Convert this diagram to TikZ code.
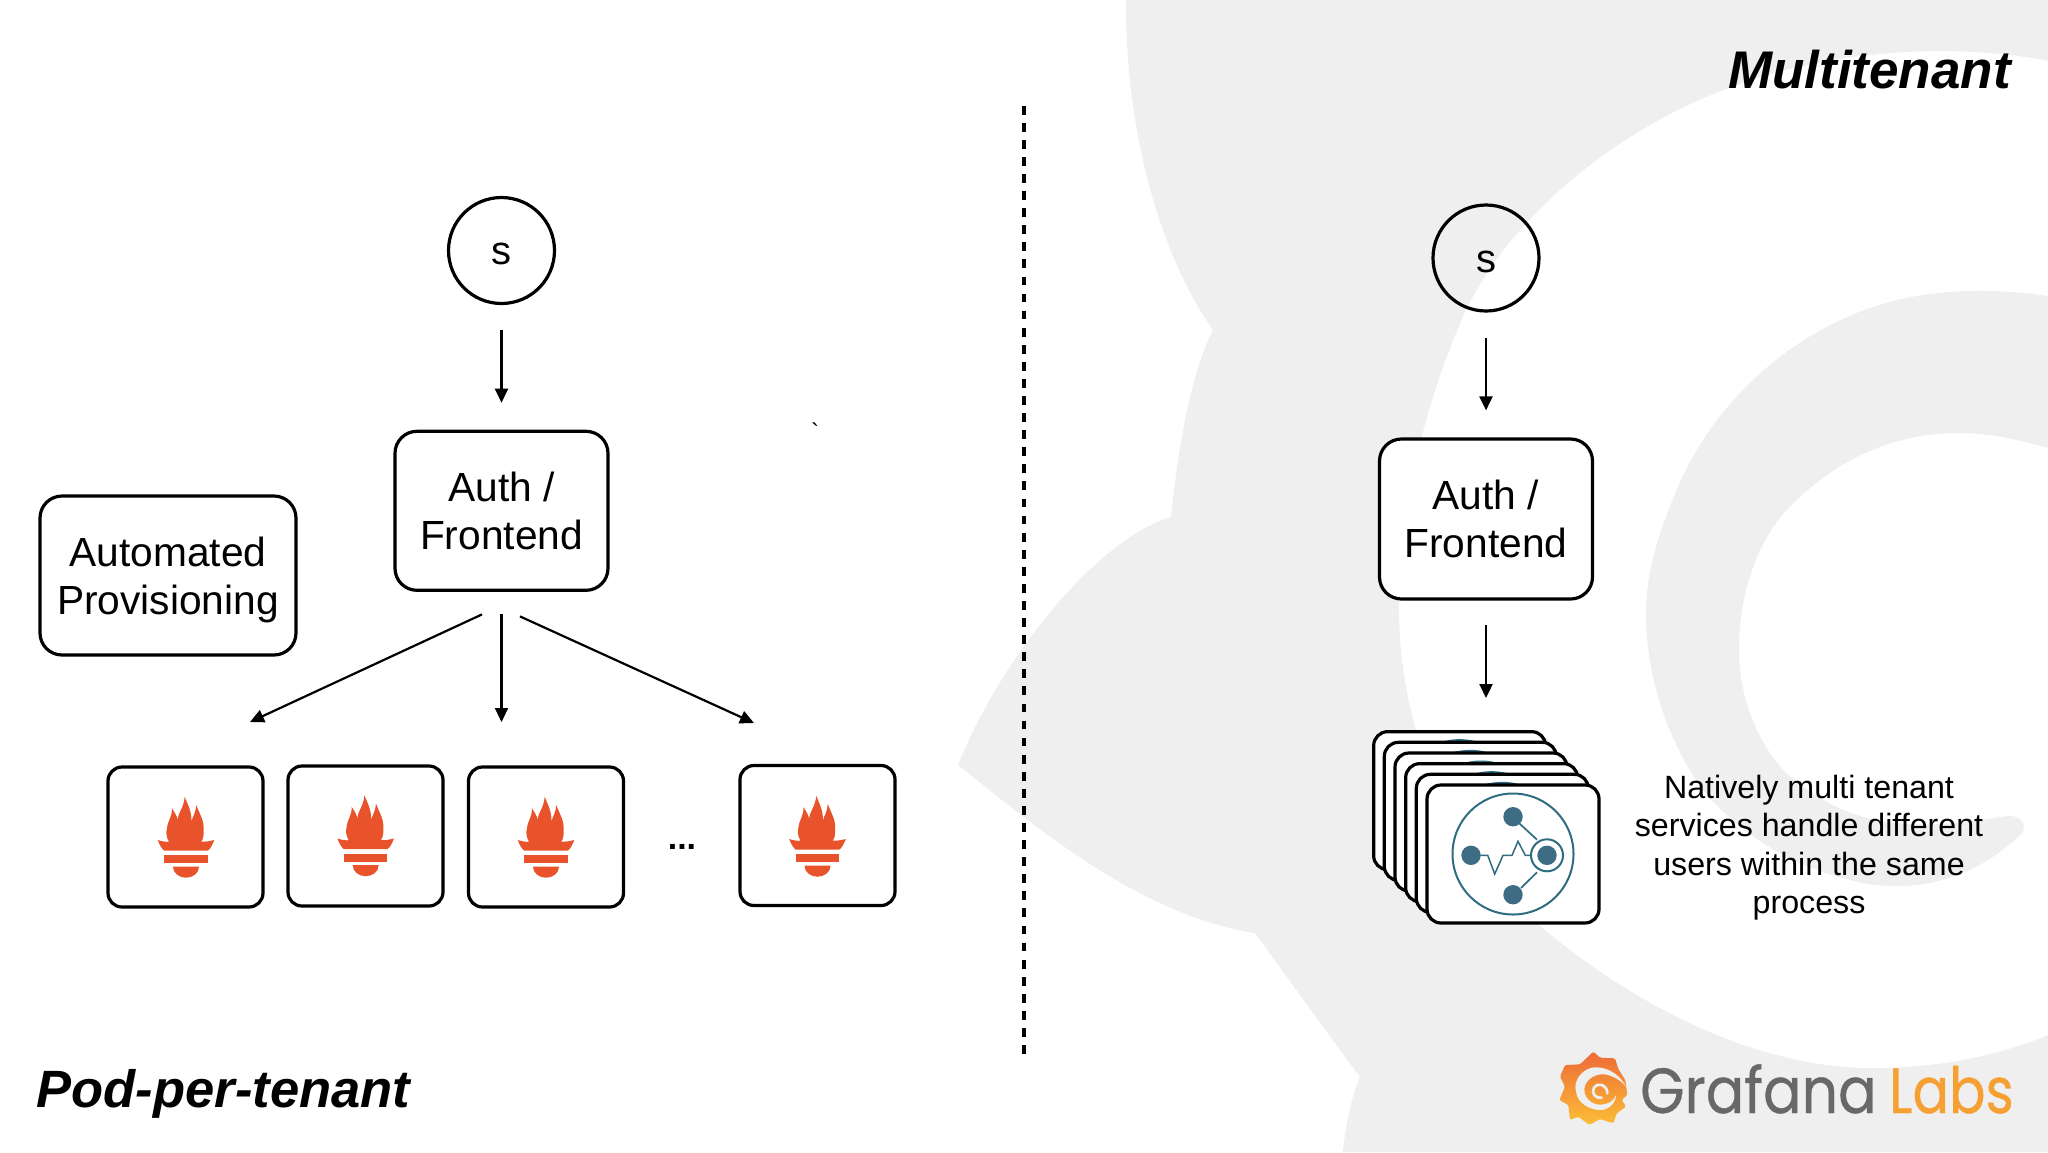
\documentclass[tikz,border=0pt]{standalone}
\usepackage{fontspec}
\usepackage{graphicx}
\usetikzlibrary{arrows.meta}
\setmainfont{Liberation Sans}
\newfontfamily\plainsans{Liberation Sans}
\newfontfamily\logofont[FakeBold=0.6]{Poppins}
\definecolor{bggray}{HTML}{EFEFF0}
\definecolor{flame}{HTML}{E9532B}
\definecolor{teal}{HTML}{2F6C80}
\definecolor{tealfill}{HTML}{3D6C84}
\definecolor{logogray}{HTML}{68686B}
\definecolor{logoorange}{HTML}{F6A033}
\definecolor{logotop}{HTML}{EE6A38}
\definecolor{logobottom}{HTML}{FBBE36}
\tikzset{
  roundbox/.style={draw=black,line width=3.2pt,rounded corners=22pt,fill=white,inner sep=0pt,align=center,
    font=\fontsize{40.7}{47.7}\selectfont},
  promcard/.style={draw=black,line width=3.2pt,rounded corners=14pt,fill=white,inner sep=0pt,minimum width=155pt,minimum height=140pt},
  stackcard/.style={draw=black,line width=3.2pt,rounded corners=14pt,fill=white,inner sep=0pt,minimum width=172pt,minimum height=138pt},
  usercircle/.style={circle,draw=black,line width=3.2pt,fill=none,inner sep=0pt,minimum size=106pt,font=\fontsize{40}{48}\selectfont},
  flow/.style={line width=2.2pt,-{Triangle[length=14pt,width=13pt]}},
  titletext/.style={font=\fontsize{53}{60}\selectfont\bfseries\itshape,inner sep=0pt},
  flamepic/.pic={
    \fill[flame] (-28.3,0) .. controls (-24,1.5) and (-20,2) .. (-17,1.7)
      .. controls (-20,-3) and (-20,-8) .. (-19,-12)
      .. controls (-18,-20) and (-14,-22) .. (-14,-31.7)
      .. controls (-11,-27) and (-9,-24) .. (-8.3,-20)
      .. controls (-8,-28) and (-2,-32) .. (-1.3,-43.3)
      .. controls (2,-35) and (6,-28) .. (5.3,-18.3)
      .. controls (7,-24) and (10,-28) .. (10.3,-35)
      .. controls (14,-25) and (18,-20) .. (17.7,-10)
      .. controls (18,-5) and (17,0) .. (15,1.7)
      .. controls (20,2) and (24,1) .. (28.3,0)
      .. controls (26,6) and (24,9) .. (21.7,10.7)
      -- (-21.7,10.7) .. controls (-24,9) and (-26,6) .. (-28.3,0) -- cycle;
    \fill[flame] (-22,15.3) rectangle (21.7,23.3);
    \fill[flame] (-13,26.7) -- (13,26.7) .. controls (13,33) and (7,37.7) .. (0,37.7)
      .. controls (-7,37.7) and (-13,33) .. (-13,26.7) -- cycle;
  },
  targetpic/.pic={
    \draw[teal,line width=2pt] (0,0) circle[radius=60.5pt];
    \fill[tealfill] (0,-37.3) circle[radius=9.7pt];
    \fill[tealfill] (-42,1.3) circle[radius=9.7pt];
    \fill[tealfill] (0,40.7) circle[radius=9.7pt];
    \fill[tealfill] (34,1.3) circle[radius=9.7pt];
    \draw[teal,line width=2pt] (34,1.3) circle[radius=16pt];
    \draw[teal,line width=1.7pt] (6.7,-30.3) -- (24,-14.3);
    \draw[teal,line width=1.7pt] (8,34) -- (24,18.3);
    \draw[teal,line width=1.5pt,line join=miter] (-32.7,1.3) -- (-25.3,1.3) -- (-18.3,20) -- (-10,1.3) -- (-1,1.3) -- (5,-12.7) -- (12.3,1.3) -- (17.3,1.3);
  }
}
\begin{document}
\begin{tikzpicture}[x=1pt,y=-1pt]
\useasboundingbox (0,0) rectangle (2048,1152);
\fill[white] (0,0) rectangle (2048,1152);
% background logo shape
\fill[bggray] (1126,0)
  .. controls (1125,130) and (1160,255) .. (1213,330)
  .. controls (1190,375) and (1178,450) .. (1171,517)
  .. controls (1095,540) and (1000,660) .. (958,765)
  .. controls (1040,830) and (1140,915) .. (1255,933)
  .. controls (1290,981) and (1325,1030) .. (1360,1077)
  .. controls (1350,1100) and (1345,1130) .. (1343,1152)
  -- (2048,1152) -- (2048,0) -- cycle;
\fill[white] (2048,61)
  .. controls (1950,42) and (1830,50) .. (1729,88)
  .. controls (1620,128) and (1500,220) .. (1457,331)
  .. controls (1420,420) and (1399,520) .. (1399,609)
  .. controls (1399,730) and (1450,850) .. (1539,925)
  .. controls (1640,1010) and (1760,1068) .. (1873,1068)
  .. controls (1940,1068) and (2000,1055) .. (2048,1035) -- cycle;
\fill[bggray] (2048,296)
  .. controls (1990,288) and (1930,288) .. (1873,307)
  .. controls (1790,335) and (1715,400) .. (1677,489)
  .. controls (1660,530) and (1646,570) .. (1646,613)
  .. controls (1646,680) and (1670,745) .. (1703,790)
  .. controls (1745,840) and (1800,870) .. (1863,883)
  .. controls (1930,895) and (1985,870) .. (2022,833)
  .. controls (2028,822) and (2018,815) .. (2007,816)
  .. controls (1970,822) and (1935,827) .. (1897,823)
  .. controls (1855,820) and (1815,800) .. (1783,770)
  .. controls (1755,738) and (1739,695) .. (1739,649)
  .. controls (1739,590) and (1760,530) .. (1801,496)
  .. controls (1845,455) and (1900,433) .. (1958,433)
  .. controls (1990,433) and (2020,440) .. (2048,448) -- cycle;
% divider
\coordinate (divtop) at (1024,105.7);
\coordinate (divbot) at (1024,1054);
\draw[black,line width=4.7pt,dash pattern=on 8.8pt off 8.28pt] (divtop) -- (divbot);
% left side
\node[usercircle] (sL) at (501.5,250.5) {\raisebox{-14pt}[0pt][0pt]{s}};
\node[roundbox,minimum width=213pt,minimum height=159pt] (authL) at (501.5,510.8) {Auth /\\Frontend};
\node[roundbox,minimum width=256pt,minimum height=159pt] (prov) at (168,575.5) {Automated\\\raisebox{0pt}[\height][0pt]{Provisioning}};
\draw[flow,shorten <=25pt,shorten >=27pt] (sL.south) -- (authL.north);
\coordinate (tipL) at (250,722);
\coordinate (tipM) at (501.5,722);
\coordinate (tipR) at (754,723);
\draw[flow] ([xshift=-19.5pt,yshift=-22.5pt]authL.south) -- (tipL);
\draw[flow] ([yshift=-22.5pt]authL.south) -- (tipM);
\draw[flow] ([xshift=18.5pt,yshift=-24.5pt]authL.south) -- (tipR);
\node[promcard] (p1) at (185.5,837) {};
\node[promcard] (p2) at (365.5,836) {};
\node[promcard] (p3) at (546,837) {};
\node[promcard] (p4) at (817.5,835.5) {};
\pic at (186,840) {flamepic};
\pic at (365.7,838.5) {flamepic};
\pic at (546,840) {flamepic};
\pic at (817.5,839) {flamepic};
\node[font=\fontsize{34}{40}\selectfont\bfseries,inner sep=0pt,anchor=base] (dots) at (682,849) {...};
\node[font=\fontsize{24}{28}\plainsans,inner sep=0pt,anchor=base west] (tick) at (811,440) {\char96};
\node[titletext,font=\fontsize{52.5}{60}\selectfont\bfseries\itshape,anchor=base west] (podtitle) at (36.5,1107) {Pod-per-tenant};
% right side
\node[titletext,anchor=base east] (multititle) at (2011,88) {Multitenant};
\node[usercircle] (sR) at (1486,258) {\raisebox{-14pt}[0pt][0pt]{s}};
\node[roundbox,minimum width=213pt,minimum height=160pt] (authR) at (1486,519) {Auth /\\Frontend};
\draw[flow,shorten <=25.5pt,shorten >=27pt] (sR.south) -- (authR.north);
\coordinate (stacktip) at (1486,698);
\draw[flow,shorten <=24.5pt] (authR.south) -- (stacktip);
\foreach \k in {5,4,3,2,1,0}{
  \node[stackcard] (card\k) at ({1513-10.67*\k},{854-10.67*\k}) {};
  \pic at (card\k.center) {targetpic};
}
\node[font=\fontsize{32.2}{38.5}\selectfont,align=center,inner sep=0pt] (desc) at (1809,847.6) {Natively multi tenant\\services handle different\\users within the same\\process};
% Grafana Labs logo
\begin{scope}[shift={(1550,1045)},x=0.3333pt,y=-0.3333pt]
  \shade[top color=logotop,bottom color=logobottom,rounded corners=1.5pt]
   (130,20) -- (150,38) -- (195,40) -- (205,72) -- (226,105) -- (232,150) -- (215,165) -- (228,185) -- (200,205) -- (190,235) -- (150,222) -- (118,240) -- (85,215) -- (60,225) -- (55,180) -- (28,165) -- (45,125) -- (30,95) -- (45,60) -- (90,58) -- cycle;
  \fill[bggray] (228,125)
     .. controls (205,80) and (160,62) .. (125,68)
     .. controls (90,78) and (70,110) .. (78,140)
     .. controls (82,175) and (120,195) .. (150,195)
     .. controls (180,195) and (198,170) .. (198,150)
     .. controls (190,172) and (165,182) .. (140,178)
     .. controls (115,172) and (100,150) .. (103,130)
     .. controls (108,100) and (140,85) .. (165,88)
     .. controls (190,92) and (215,108) .. (228,125) -- cycle;
  \draw[bggray,line width=2.7pt,line cap=round] (172,145)
     .. controls (172,120) and (145,110) .. (132,128)
     .. controls (122,145) and (138,162) .. (155,158);
\end{scope}
\node[font=\fontsize{57}{70}\logofont,text=logogray,inner sep=0pt,anchor=base west] (grafana) at (1640,1113) {\scalebox{1}[1.12]{Grafana}};
\node[font=\fontsize{54}{70}\logofont,text=logoorange,inner sep=0pt,anchor=base west] (labs) at (1889,1113) {\scalebox{1}[1.18]{Labs}};
\end{tikzpicture}
\end{document}
